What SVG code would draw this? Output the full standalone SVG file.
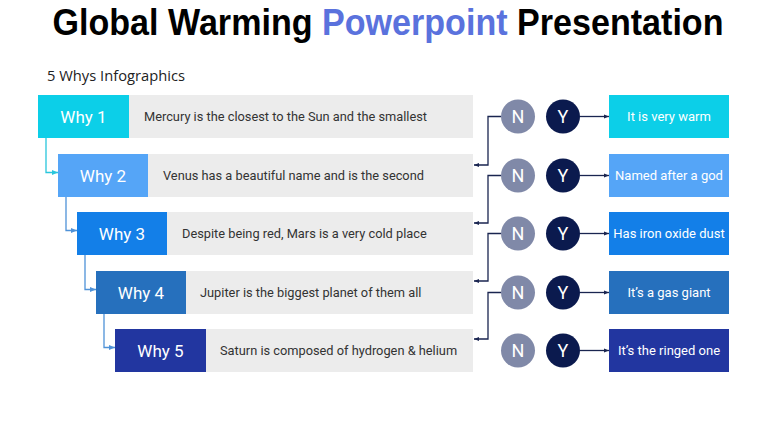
<svg xmlns="http://www.w3.org/2000/svg" width="768" height="432" viewBox="0 0 768 432">
<defs>
<style>
.title{font-family:"Liberation Sans",Arial,sans-serif;font-weight:bold;font-size:36px;fill:#000}
.sub{font-family:"Open Sans",sans-serif;font-size:14px;fill:#222}
.why{font-family:Roboto,sans-serif;font-size:17px;fill:#fff;text-anchor:middle}
.desc{font-family:Roboto,sans-serif;font-size:12.8px;fill:#333}
.res{font-family:Roboto,sans-serif;font-size:13px;fill:#fff;text-anchor:middle}
.circ{font-family:Roboto,sans-serif;font-size:18px;fill:#fff;text-anchor:middle}
.bar{fill:#ececec}
.n{fill:#8089a8}
.y{fill:#0b1a4e}
.lnk{fill:none;stroke:#1a2550;stroke-width:1.3}
.wl{fill:none;stroke-width:1.3}
</style>
<marker id="ad" viewBox="0 0 10 10" refX="10" refY="5" markerWidth="5" markerHeight="5" orient="auto" markerUnits="userSpaceOnUse"><path d="M0,1 L10,5 L0,9 Z" fill="#1a2550"/></marker>
<marker id="ac" viewBox="0 0 10 10" refX="10" refY="5" markerWidth="6" markerHeight="6" orient="auto" markerUnits="userSpaceOnUse"><path d="M0,1 L10,5 L0,9 Z" fill="#29c6dc"/></marker>
<marker id="ab" viewBox="0 0 10 10" refX="10" refY="5" markerWidth="6" markerHeight="6" orient="auto" markerUnits="userSpaceOnUse"><path d="M0,1 L10,5 L0,9 Z" fill="#4f92d8"/></marker>
</defs>
<rect width="768" height="432" fill="#fff"/>
<text class="title" x="388" y="35" text-anchor="middle" textLength="671" lengthAdjust="spacingAndGlyphs">Global Warming <tspan fill="#5a72dd">Powerpoint</tspan> Presentation</text>
<text class="sub" x="47" y="81" textLength="138" lengthAdjust="spacingAndGlyphs">5 Whys Infographics</text>

<g id="connectors">
<path class="wl" stroke="#29c6dc" d="M46,138 V172.5 H58" marker-end="url(#ac)"/>
<path class="wl" stroke="#4f92d8" d="M66,197 V230.5 H77" marker-end="url(#ab)"/>
<path class="wl" stroke="#4f92d8" d="M85,255 V289.5 H96" marker-end="url(#ab)"/>
<path class="wl" stroke="#4f92d8" d="M104,314 V347.5 H115" marker-end="url(#ab)"/>
<path class="lnk" d="M501,116.5 H488 V165 H474" marker-end="url(#ad)"/>
<path class="lnk" d="M501,175.5 H488 V223 H474" marker-end="url(#ad)"/>
<path class="lnk" d="M501,233.5 H488 V281 H474" marker-end="url(#ad)"/>
<path class="lnk" d="M501,292.5 H488 V339 H474" marker-end="url(#ad)"/>
<path class="lnk" d="M580,116.5 H609" marker-end="url(#ad)"/>
<path class="lnk" d="M580,175.5 H609" marker-end="url(#ad)"/>
<path class="lnk" d="M580,233.5 H609" marker-end="url(#ad)"/>
<path class="lnk" d="M580,292.5 H609" marker-end="url(#ad)"/>
<path class="lnk" d="M580,350.5 H609" marker-end="url(#ad)"/>
</g>

<g id="why1">
<rect class="bar" x="129" y="95" width="344" height="43"/>
<rect x="38" y="95" width="91" height="43" fill="#0ccfe8"/>
<text class="why" x="83.5" y="122.5">Why 1</text>
<text class="desc" x="144" y="121">Mercury is the closest to the Sun and the smallest</text>
</g>
<g id="why2">
<rect class="bar" x="148" y="154" width="325" height="43"/>
<rect x="58" y="154" width="90" height="43" fill="#55a5f7"/>
<text class="why" x="103" y="181.5">Why 2</text>
<text class="desc" x="163" y="180">Venus has a beautiful name and is the second</text>
</g>
<g id="why3">
<rect class="bar" x="167" y="212" width="306" height="43"/>
<rect x="77" y="212" width="90" height="43" fill="#137fe8"/>
<text class="why" x="122" y="239.5">Why 3</text>
<text class="desc" x="182" y="238">Despite being red, Mars is a very cold place</text>
</g>
<g id="why4">
<rect class="bar" x="186" y="271" width="287" height="43"/>
<rect x="96" y="271" width="90" height="43" fill="#2670bd"/>
<text class="why" x="141" y="298.5">Why 4</text>
<text class="desc" x="200" y="297">Jupiter is the biggest planet of them all</text>
</g>
<g id="why5">
<rect class="bar" x="206" y="329" width="267" height="43"/>
<rect x="115" y="329" width="91" height="43" fill="#2236a0"/>
<text class="why" x="160.5" y="356.5">Why 5</text>
<text class="desc" x="220" y="355">Saturn is composed of hydrogen &amp; helium</text>
</g>

<g id="n1"><circle class="n" cx="518" cy="116.5" r="17"/><text class="circ" x="518" y="123">N</text></g>
<g id="y1"><circle class="y" cx="563" cy="116.5" r="17"/><text class="circ" x="563" y="123">Y</text></g>
<g id="n2"><circle class="n" cx="518" cy="175.5" r="17"/><text class="circ" x="518" y="182">N</text></g>
<g id="y2"><circle class="y" cx="563" cy="175.5" r="17"/><text class="circ" x="563" y="182">Y</text></g>
<g id="n3"><circle class="n" cx="518" cy="233.5" r="17"/><text class="circ" x="518" y="240">N</text></g>
<g id="y3"><circle class="y" cx="563" cy="233.5" r="17"/><text class="circ" x="563" y="240">Y</text></g>
<g id="n4"><circle class="n" cx="518" cy="292.5" r="17"/><text class="circ" x="518" y="299">N</text></g>
<g id="y4"><circle class="y" cx="563" cy="292.5" r="17"/><text class="circ" x="563" y="299">Y</text></g>
<g id="n5"><circle class="n" cx="518" cy="350.5" r="17"/><text class="circ" x="518" y="357">N</text></g>
<g id="y5"><circle class="y" cx="563" cy="350.5" r="17"/><text class="circ" x="563" y="357">Y</text></g>

<g id="res1"><rect x="609" y="95" width="120" height="43" fill="#0ccfe8"/><text class="res" x="669" y="121">It is very warm</text></g>
<g id="res2"><rect x="609" y="154" width="120" height="43" fill="#55a5f7"/><text class="res" x="669" y="180">Named after a god</text></g>
<g id="res3"><rect x="609" y="212" width="120" height="43" fill="#137fe8"/><text class="res" x="669" y="238">Has iron oxide dust</text></g>
<g id="res4"><rect x="609" y="271" width="120" height="43" fill="#2670bd"/><text class="res" x="669" y="297">It’s a gas giant</text></g>
<g id="res5"><rect x="609" y="329" width="120" height="43" fill="#2236a0"/><text class="res" x="669" y="355">It’s the ringed one</text></g>
</svg>
